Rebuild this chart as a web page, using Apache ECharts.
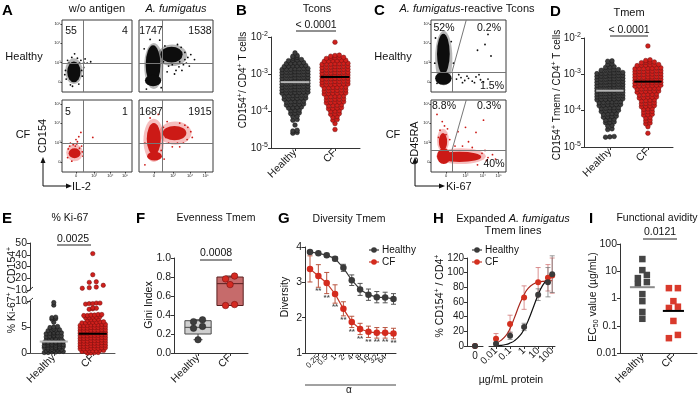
<!DOCTYPE html>
<html><head><meta charset="utf-8"><title>chart</title>
<script src="https://cdn.jsdelivr.net/npm/echarts@6.0.0/dist/echarts.min.js"></script>
<style>html,body{margin:0;padding:0;background:#fff;}#chart{width:700px;height:394px;}</style>
</head><body><div id="chart"></div>
<script>
const FONT='"Liberation Sans", Arial, Helvetica, sans-serif';
/* ================= DATA ================= */
const groupLabels=['Healthy','CF'];

// A - flow plots (CD154 vs IL-2); coordinates in % of each plot box
const flowTickLabels=['0','10³','10⁴','10⁵'];
const flowXTicks=[20,46,69,90];
const flowYTicks=[14,41,68,94];
const quadrantCountsA=[['55','4'],['1747','1538'],['5','1'],['1687','1915']];
const gatesA=[[30,40],[31,40],[30,40],[31,40]];
// halo/core = [cx, cy, width, height] ; events = [x, y]
const popA_HealthyNoAg={halo:[[17,29,25,36]],core:[[17,28,19,29]],events:[[8,44],[14,48],[22,47],[27,44],[31,41],[36,40],[29,22],[5,30],[31,34],[24,11],[12,10],[41,42],[18,53],[33,46],[6,18],[4,24],[28,30],[10,40],[25,40],[15,8]]};
const popA_HealthyAf={halo:[[20,36,26,64],[45,51,40,30]],core:[[19,38,20,54],[44,52,30,22],[19,16,22,16]],events:[[55,42],[60,38],[62,55],[58,30],[50,30],[48,25],[66,48],[70,52],[40,36],[35,64],[52,66],[28,72],[15,73],[68,36],[45,38],[54,35],[75,45],[38,28],[10,4],[30,6],[62,45],[57,62],[33,42],[36,58],[7,60],[64,40]]};
const popA_CFNoAg={halo:[[18,27,24,24]],core:[[18,26,17,14]],events:[[12,40],[20,45],[24,49],[16,38],[28,36],[9,32],[30,22],[22,42],[14,15],[44,48],[27,55],[19,36],[25,33],[11,36],[21,39],[8,20],[29,28]]};
const popA_CFAf={halo:[[20,44,28,60],[49,54,44,32]],core:[[20,46,19,44],[21,22,20,12],[48,54,32,20]],events:[[60,40],[65,45],[70,56],[62,65],[55,68],[40,40],[45,35],[38,70],[15,75],[30,30],[55,35],[72,48],[8,10],[34,18],[26,80],[58,60],[66,62],[52,40],[36,48],[8,40],[33,62]]};

// C - flow plots (CD45RA vs Ki-67)
const pctC=[['52%','0.2%','1.5%'],['8.8%','0.3%','40%']];
const gatesC=[[28,28,47],[28,30.5,47]]; // [vertical x, horizontal y, diagonal top x]
const popC_Healthy={halo:[[17,47,23,76]],core:[[16.5,53,17,56],[16.5,19,22,18]],events:[[34,18],[40,20],[45,16],[50,19],[55,15],[60,21],[66,17],[70,14],[48,22],[42,13],[58,13],[76,18],[37,24],[64,24],[72,66],[62,58],[80,50],[76,80],[30,40],[8,12],[5,40],[27,70],[6,75]]};
const popC_CF={halo:[[40,22,66,22],[16,44,16,32]],core:[[38,21,58,14],[17,22,18,22],[16,42,11,24]],events:[[12,58],[18,64],[15,70],[20,52],[10,48],[25,45],[32,36],[42,36],[55,34],[72,30],[76,20],[62,10],[82,24],[50,42],[36,56],[46,62],[60,55],[70,72],[86,18],[8,80],[68,26],[74,16],[22,60]]};

// B - CD154+/CD4+ T cells (Tcons), log10 values
const tconsHealthyLog10=[-2.43,-2.5,-2.52,-2.55,-2.57,-2.61,-2.62,-2.64,-2.63,-2.69,-2.7,-2.71,-2.72,-2.7,-2.77,-2.78,-2.79,-2.8,-2.78,-2.77,-2.85,-2.86,-2.87,-2.88,-2.86,-2.85,-2.87,-2.93,-2.94,-2.95,-2.96,-2.94,-2.93,-2.95,-3.01,-3.02,-3.03,-3.04,-3.02,-3.01,-3.03,-3.09,-3.1,-3.11,-3.12,-3.1,-3.09,-3.11,-3.17,-3.18,-3.19,-3.2,-3.18,-3.17,-3.19,-3.25,-3.26,-3.27,-3.28,-3.26,-3.25,-3.27,-3.33,-3.34,-3.35,-3.36,-3.34,-3.33,-3.35,-3.41,-3.42,-3.43,-3.44,-3.42,-3.41,-3.43,-3.49,-3.5,-3.51,-3.52,-3.5,-3.49,-3.51,-3.57,-3.58,-3.59,-3.6,-3.58,-3.57,-3.65,-3.66,-3.67,-3.68,-3.66,-3.65,-3.73,-3.74,-3.75,-3.76,-3.74,-3.81,-3.82,-3.83,-3.84,-3.82,-3.89,-3.9,-3.91,-3.92,-3.97,-3.98,-3.99,-4.05,-4.07,-4.06,-4.14,-4.15,-4.23,-4.25,-4.38,-4.52,-4.54,-4.58,-4.6];
const tconsCFLog10=[-2.14,-2.49,-2.5,-2.52,-2.55,-2.56,-2.57,-2.58,-2.56,-2.63,-2.64,-2.65,-2.66,-2.64,-2.63,-2.71,-2.72,-2.73,-2.74,-2.72,-2.71,-2.73,-2.79,-2.8,-2.81,-2.82,-2.8,-2.79,-2.81,-2.87,-2.88,-2.89,-2.9,-2.88,-2.87,-2.89,-2.95,-2.96,-2.97,-2.98,-2.96,-2.95,-2.97,-3.03,-3.04,-3.05,-3.06,-3.04,-3.03,-3.05,-3.11,-3.12,-3.13,-3.14,-3.12,-3.11,-3.13,-3.19,-3.2,-3.21,-3.22,-3.2,-3.19,-3.21,-3.27,-3.28,-3.29,-3.3,-3.28,-3.27,-3.29,-3.35,-3.36,-3.37,-3.38,-3.36,-3.35,-3.43,-3.44,-3.45,-3.46,-3.44,-3.43,-3.51,-3.52,-3.53,-3.54,-3.52,-3.51,-3.59,-3.6,-3.61,-3.62,-3.6,-3.67,-3.68,-3.69,-3.7,-3.68,-3.75,-3.76,-3.77,-3.78,-3.76,-3.83,-3.84,-3.85,-3.86,-3.91,-3.92,-3.93,-3.94,-3.99,-4.0,-4.01,-4.07,-4.08,-4.09,-4.15,-4.17,-4.23,-4.25,-4.34,-4.5];
const tconsMedianLog10=[-3.22,-3.08];

// D - CD154+ Tmem / CD4+ T cells, log10 values
const tmemHealthyLog10=[-2.63,-2.64,-2.71,-2.73,-2.79,-2.8,-2.81,-2.87,-2.88,-2.89,-2.88,-2.87,-2.95,-2.96,-2.97,-2.98,-2.96,-2.95,-2.97,-3.03,-3.04,-3.05,-3.06,-3.04,-3.03,-3.05,-3.11,-3.12,-3.13,-3.14,-3.12,-3.11,-3.13,-3.19,-3.2,-3.21,-3.22,-3.2,-3.19,-3.21,-3.27,-3.28,-3.29,-3.3,-3.28,-3.27,-3.29,-3.35,-3.36,-3.37,-3.38,-3.36,-3.35,-3.37,-3.43,-3.44,-3.45,-3.46,-3.44,-3.43,-3.45,-3.51,-3.52,-3.53,-3.54,-3.52,-3.51,-3.53,-3.59,-3.6,-3.61,-3.62,-3.6,-3.59,-3.61,-3.67,-3.68,-3.69,-3.7,-3.68,-3.67,-3.69,-3.75,-3.76,-3.77,-3.78,-3.76,-3.75,-3.83,-3.84,-3.85,-3.86,-3.84,-3.83,-3.91,-3.92,-3.93,-3.94,-3.92,-3.99,-4.0,-4.01,-4.02,-4.0,-4.07,-4.08,-4.09,-4.1,-4.15,-4.16,-4.17,-4.18,-4.23,-4.24,-4.26,-4.31,-4.33,-4.32,-4.4,-4.42,-4.5,-4.52,-4.72,-4.73,-4.71];
const tmemCFLog10=[-2.22,-2.6,-2.62,-2.66,-2.67,-2.68,-2.66,-2.74,-2.75,-2.76,-2.74,-2.73,-2.75,-2.82,-2.83,-2.84,-2.85,-2.83,-2.82,-2.84,-2.9,-2.91,-2.92,-2.93,-2.91,-2.9,-2.92,-2.98,-2.99,-3.0,-3.01,-2.99,-2.98,-3.0,-3.06,-3.07,-3.08,-3.09,-3.07,-3.06,-3.08,-3.14,-3.15,-3.16,-3.17,-3.15,-3.14,-3.16,-3.22,-3.23,-3.24,-3.25,-3.23,-3.22,-3.24,-3.3,-3.31,-3.32,-3.33,-3.31,-3.3,-3.32,-3.38,-3.39,-3.4,-3.41,-3.39,-3.38,-3.46,-3.47,-3.48,-3.49,-3.47,-3.46,-3.54,-3.55,-3.56,-3.57,-3.55,-3.62,-3.63,-3.64,-3.65,-3.63,-3.7,-3.71,-3.72,-3.73,-3.78,-3.79,-3.8,-3.81,-3.86,-3.87,-3.88,-3.89,-3.94,-3.95,-3.96,-4.02,-4.03,-4.04,-4.1,-4.11,-4.12,-4.18,-4.2,-4.26,-4.28,-4.34,-4.36,-4.44,-4.62];
const tmemMedianLog10=[-3.45,-3.2];

// E - % Ki-67+ / CD154+
const ki67Healthy=[9.7,9.2,6.9,6.6,6.5,6.8,5.9,5.0,4.9,5.1,4.4,4.5,4.3,4.6,4.4,3.9,3.8,4.0,3.7,3.9,3.8,3.3,3.2,3.4,3.1,3.3,3.2,2.7,2.6,2.8,2.5,2.7,2.6,2.8,2.1,2.0,2.2,1.9,2.1,2.0,2.2,1.9,1.6,1.5,1.7,1.4,1.6,1.5,1.7,1.4,1.1,1.0,1.2,0.9,1.1,1.0,1.2,0.9,0.6,0.5,0.7,0.4,0.6,0.5,0.7,0.2,0.1,0.3,0.2,0.1,0.3];
const ki67CF=[41,23,17,16.5,14,12.5,12,11.5,9.6,9.5,9.4,9.6,9.5,8.6,8.5,8.7,8.4,7.4,7.3,7.2,7.4,7.3,7.2,6.9,6.8,7.0,6.9,6.8,6.4,6.3,6.5,6.4,5.9,5.8,6.0,5.9,5.8,6.0,5.9,5.4,5.3,5.5,5.4,5.3,5.5,5.4,5.3,4.9,4.8,5.0,4.9,4.8,5.0,4.9,4.8,4.4,4.3,4.5,4.4,4.3,4.5,4.4,4.3,3.9,3.8,4.0,3.9,3.8,4.0,3.9,3.8,3.4,3.3,3.5,3.4,3.3,3.5,3.4,3.3,2.9,2.8,3.0,2.9,2.8,3.0,2.9,2.8,2.4,2.3,2.5,2.4,2.3,2.5,2.4,2.3,1.9,1.8,2.0,1.9,1.8,2.0,1.9,1.8,1.4,1.3,1.5,1.4,1.3,1.5,1.4,1.3,0.9,0.8,1.0,0.9,0.8,1.0,0.9,0.8,0.4,0.3,0.5,0.4,0.3,0.5,0.4,0.1,0.0,0.1,0.0];
const ki67Median=[2.2,3.7];

// F - Gini index (evenness)
const giniHealthy=[0.14,0.26,0.28,0.33,0.35];
const giniCF=[0.50,0.51,0.72,0.78,0.81];
const giniBoxHealthy=[0.14,0.20,0.27,0.34,0.35]; // min,q1,median,q3,max
const giniBoxCF=[0.50,0.50,0.73,0.80,0.81];

// G - Diversity vs alpha
const alphaLabels=['0','0.25','0.5','1','2','4','8','16','32','64','Inf'];
const divHealthy=[3.86,3.82,3.77,3.67,3.41,3.06,2.8,2.65,2.58,2.57,2.53];
const divHealthyErr=[0.03,0.04,0.05,0.06,0.1,0.15,0.17,0.16,0.16,0.15,0.15];
const divCF=[3.38,3.18,2.98,2.67,2.25,1.88,1.68,1.6,1.57,1.57,1.55];
const divCFErr=[0.37,0.32,0.3,0.26,0.2,0.16,0.16,0.16,0.15,0.15,0.15];
const divSig=['','**','**','**','**','**','**','**','**','**','**'];

// H - % CD154+ / CD4+ vs antigen dose
const doseTickLabels=['0.01','0.1','1','10','100'];
const doses=[0.01,0.1,1,10,50,100];
const respHealthy=[3,14,26,70,87,98];
const respHealthyErr=[2,5,5,8,20,25];
const respCF=[10,30,66,87,93,96];
const respCFErr=[7,12,16,20,18,24];
const respZeroDose=[0,0]; // Healthy, CF at 0 µg/mL
const fitDoses=[0.01,0.02,0.05,0.1,0.2,0.5,1,2,5,10,20,50,100];
const fitHealthy=[0.5,0.8,2,4,7,14,23,35,55,70,82,92,96];
const fitCF=[4,7,14,24,38,58,70,79,85,87,88,89,89];

// I - EC50 (µg/mL)
const ec50Healthy=[28,11,7.3,5.6,3.4,4.0,1.45,0.8,0.32,0.18];
const ec50CF=[2.4,2.4,0.8,0.45,0.5,0.15,0.035,0.046];
const ec50Median=[2.6,0.35];
const ec50TickLabels=['0.01','0.1','1','10','100'];

/* ================= BUILD ================= */
const grids=[],xAxes=[],yAxes=[],series=[],graphics=[];
const RICH={s:{fontSize:7,padding:[0,0,6,0],fontFamily:FONT,color:'#1a1a1a'}};
const ELLIPSE='path://M0 50A50 50 0 1 1 100 50A50 50 0 1 1 0 50Z';
const DOT_H={color:'#3d3d3d',borderColor:'#111',borderWidth:0.5,opacity:1};
const DOT_C={color:'#d0201c',borderColor:'#6e0e0e',borderWidth:0.5,opacity:1};

function grid(l,t,w,h,o){grids.push(Object.assign({left:l,top:t,width:w,height:h,outerBoundsMode:'none'},o||{}));return grids.length-1;}
function mkAxis(list,g,o){
  const lc=o.lineColor||'#333';
  const a={gridIndex:g,type:'value',min:o.min,max:o.max,show:o.show!==false,
    axisLine:{show:true,onZero:false,lineStyle:{color:lc,width:1}},
    axisTick:{show:!!o.ticks,customValues:o.ticks,length:o.tickLen||3,lineStyle:{color:lc,width:1}},
    axisLabel:{show:!!o.ticks,customValues:o.ticks,formatter:o.fmt,rotate:o.rotate||0,fontSize:o.fs||10,margin:o.margin||3,color:'#1a1a1a',fontFamily:FONT,rich:o.rich},
    splitLine:{show:false}};
  if(o.extra)Object.assign(a,o.extra);
  list.push(a);return list.length-1;
}
function T(x,y,text,o){o=o||{};
  graphics.push({type:'text',x:x,y:y,rotation:o.rot?Math.PI/2:0,silent:true,z:100,
    style:{text:text,x:0,y:0,fill:o.color||'#111',fontSize:o.fs||11,fontFamily:FONT,fontWeight:o.bold?'bold':'normal',fontStyle:o.italic?'italic':'normal',
      align:o.align||'center',textAlign:o.align||'center',verticalAlign:o.va||'middle',textVerticalAlign:o.va||'middle',rich:o.rich}});}
function L(x1,y1,x2,y2,c,w){graphics.push({type:'line',silent:true,z:100,shape:{x1:x1,y1:y1,x2:x2,y2:y2},style:{stroke:c||'#222',lineWidth:w||1}});}
function P(points,c){graphics.push({type:'polygon',silent:true,z:100,shape:{points:points},style:{fill:c||'#222'}});}
function C(cx,cy,r,c){graphics.push({type:'circle',silent:true,z:100,shape:{cx:cx,cy:cy,r:r},style:{fill:c}});}
const supRich={s:{fontSize:7,padding:[0,0,6,0],fontFamily:FONT,fill:'#111',color:'#111'},i:{fontStyle:'italic',fontSize:11,fontFamily:FONT,fill:'#111'},n:{fontSize:11,fontFamily:FONT,fill:'#111'},b:{fontSize:7,padding:[6,0,0,0],fontFamily:FONT,fill:'#111'}};

// row beeswarm: points with (nearly) equal pixel height share a centred row
function rowSwarm(vals,center,toPx,pxPerX,spacing,maxHalf,tol){
  const pts=vals.map(v=>({v:v,py:toPx(v)})).sort((a,b)=>a.py-b.py);
  const out=[];let i=0;
  while(i<pts.length){let j=i;while(j+1<pts.length&&pts[j+1].py-pts[i].py<tol)j++;
    const n=j-i+1;const s=n>1?Math.min(spacing,2*maxHalf/(n-1)):0;
    for(let k=0;k<n;k++){out.push([center+((k-(n-1)/2)*s)/pxPerX,pts[i+k].v]);}
    i=j+1;}
  return out;
}
function medianLine(xi,yi,c,m,half,color){series.push({type:'line',xAxisIndex:xi,yAxisIndex:yi,data:[[c-half,m],[c+half,m]],showSymbol:false,symbol:'none',silent:true,z:6,lineStyle:{color:color,width:2}});}
function errSeries(xi,yi,pts,color,cap,z){series.push({type:'custom',xAxisIndex:xi,yAxisIndex:yi,silent:true,z:z||2,data:pts,
  renderItem:function(params,api){const x=api.value(0),y=api.value(1),e=api.value(2);
    const hi=api.coord([x,y+e]),lo=api.coord([x,y-e]);
    const st={stroke:color,lineWidth:1};
    return {type:'group',children:[
      {type:'line',shape:{x1:hi[0],y1:hi[1],x2:lo[0],y2:lo[1]},style:st},
      {type:'line',shape:{x1:hi[0]-cap,y1:hi[1],x2:hi[0]+cap,y2:hi[1]},style:st},
      {type:'line',shape:{x1:lo[0]-cap,y1:lo[1],x2:lo[0]+cap,y2:lo[1]},style:st}]};}});}

// ---- flow boxes ----
function flowBox(l,t,w,h,pop,col,halo,segs,showY,showX){
  const g=grid(l,t,w,h,{show:true,borderColor:'#3a3a3a',borderWidth:1});
  const tf=ticks=>v=>flowTickLabels[ticks.indexOf(v)]||'';
  const xi=mkAxis(xAxes,g,{min:0,max:100,ticks:showX?flowXTicks:undefined,fmt:tf(flowXTicks),fs:4,margin:1.5,tickLen:1.5,extra:{axisLine:{show:false}}});
  const yi=mkAxis(yAxes,g,{min:0,max:100,ticks:showY?flowYTicks:undefined,fmt:tf(flowYTicks),fs:4,margin:1.5,tickLen:1.5,extra:{axisLine:{show:false}}});
  const sz=v=>[v[2]/100*w,v[3]/100*h];
  series.push({type:'scatter',xAxisIndex:xi,yAxisIndex:yi,data:pop.halo,symbol:ELLIPSE,symbolSize:sz,itemStyle:{color:halo,opacity:1},silent:true,z:2});
  series.push({type:'scatter',xAxisIndex:xi,yAxisIndex:yi,data:pop.core,symbol:ELLIPSE,symbolSize:sz,itemStyle:{color:col,opacity:1},silent:true,z:3});
  series.push({type:'scatter',xAxisIndex:xi,yAxisIndex:yi,data:pop.events,symbolSize:1.8,itemStyle:{color:col,opacity:1},silent:true,z:4,
    markLine:{silent:true,symbol:['none','none'],animation:false,label:{show:false},lineStyle:{color:'#777',width:1,type:'solid'},emphasis:{disabled:true},
      data:segs.map(s=>[{coord:s[0]},{coord:s[1]}])}});
}
const segA=g=>[[[g[0],0],[g[0],100]],[[0,g[1]],[100,g[1]]]];
const segC=g=>[[[g[0],0],[g[0],g[1]]],[[g[0],g[1]],[g[2],100]],[[0,g[1]],[100,g[1]]]];
const BLK='#0d0d0d',BLKH='rgba(0,0,0,0.28)',RED='#cc1a16',REDH='rgba(225,40,40,0.3)';
flowBox(62,20,70,72,popA_HealthyNoAg,BLK,BLKH,segA(gatesA[0]),true,false);
flowBox(139,20,74,72,popA_HealthyAf,BLK,BLKH,segA(gatesA[1]),false,false);
flowBox(62,100,70,72,popA_CFNoAg,RED,REDH,segA(gatesA[2]),true,true);
flowBox(139,100,74,72,popA_CFAf,RED,REDH,segA(gatesA[3]),false,true);
flowBox(431,20,75,72,popC_Healthy,BLK,BLKH,segC(gatesC[0]),true,false);
flowBox(431,100,75,72,popC_CF,RED,REDH,segC(gatesC[1]),true,true);

// ---- B ----
(function(){
  const g=grid(271,37,89,111);const xmin=0.4,xmax=2.625;
  const xi=mkAxis(xAxes,g,{min:xmin,max:xmax,ticks:[1,2],fmt:v=>groupLabels[Math.round(v)-1],rotate:45,fs:10.5});
  const yi=mkAxis(yAxes,g,{min:-5,max:-2,ticks:[-5,-4,-3,-2],fmt:e=>'10{s|'+e+'}',rich:RICH,fs:10});
  const toPx=e=>(e+5)/3*111,ppx=89/(xmax-xmin);
  series.push({type:'scatter',xAxisIndex:xi,yAxisIndex:yi,data:rowSwarm(tconsHealthyLog10,1,toPx,ppx,4.3,14,1.6),symbolSize:4.6,itemStyle:DOT_H,z:3});
  series.push({type:'scatter',xAxisIndex:xi,yAxisIndex:yi,data:rowSwarm(tconsCFLog10,2,toPx,ppx,4.3,14,1.6),symbolSize:4.6,itemStyle:DOT_C,z:3});
  medianLine(xi,yi,1,tconsMedianLog10[0],0.36,'#b5b5b5');
  medianLine(xi,yi,2,tconsMedianLog10[1],0.36,'#000');
})();
// ---- D ----
(function(){
  const g=grid(584,38,89,109);const xmin=0.32,xmax=2.66;
  const xi=mkAxis(xAxes,g,{min:xmin,max:xmax,ticks:[1,2],fmt:v=>groupLabels[Math.round(v)-1],rotate:45,fs:10.5});
  const yi=mkAxis(yAxes,g,{min:-5,max:-2,ticks:[-5,-4,-3,-2],fmt:e=>'10{s|'+e+'}',rich:RICH,fs:10});
  const toPx=e=>(e+5)/3*109,ppx=89/(xmax-xmin);
  series.push({type:'scatter',xAxisIndex:xi,yAxisIndex:yi,data:rowSwarm(tmemHealthyLog10,1,toPx,ppx,4.3,13.5,1.6),symbolSize:4.6,itemStyle:DOT_H,z:3});
  series.push({type:'scatter',xAxisIndex:xi,yAxisIndex:yi,data:rowSwarm(tmemCFLog10,2,toPx,ppx,4.3,13.5,1.6),symbolSize:4.6,itemStyle:DOT_C,z:3});
  medianLine(xi,yi,1,tmemMedianLog10[0],0.36,'#b5b5b5');
  medianLine(xi,yi,2,tmemMedianLog10[1],0.36,'#000');
})();
// ---- E ----
(function(){
  const xmin=0.39,xmax=2.57;
  const gu=grid(30,243,85,47),gl=grid(30,301,85,52);
  const xu=mkAxis(xAxes,gu,{min:xmin,max:xmax,show:false});
  const yu=mkAxis(yAxes,gu,{min:10,max:50,ticks:[10,20,30,40,50],fs:10.5});
  const xl=mkAxis(xAxes,gl,{min:xmin,max:xmax,ticks:[1,2],fmt:v=>groupLabels[Math.round(v)-1],rotate:45,fs:10.5,lineColor:'#555'});
  const yl=mkAxis(yAxes,gl,{min:0,max:10,ticks:[0,5,10],fs:10.5});
  const ppx=85/(xmax-xmin);
  const lowPx=v=>v*5.2,upPx=v=>(v-10)*47/40;
  const hLow=ki67Healthy.filter(v=>v<=10),cLow=ki67CF.filter(v=>v<=10),cUp=ki67CF.filter(v=>v>10);
  series.push({type:'scatter',xAxisIndex:xl,yAxisIndex:yl,data:rowSwarm(hLow,1,lowPx,ppx,3.8,13,1.3),symbolSize:4.4,itemStyle:DOT_H,z:3});
  series.push({type:'scatter',xAxisIndex:xl,yAxisIndex:yl,data:rowSwarm(cLow,2,lowPx,ppx,3.6,14,1.3),symbolSize:4.4,itemStyle:DOT_C,z:3});
  series.push({type:'scatter',xAxisIndex:xu,yAxisIndex:yu,data:rowSwarm(cUp,2,upPx,ppx,7,14,3),symbolSize:4.4,itemStyle:DOT_C,z:3});
  medianLine(xl,yl,1,ki67Median[0],0.36,'#b5b5b5');
  medianLine(xl,yl,2,ki67Median[1],0.36,'#000');
})();
// ---- F ----
(function(){
  const xmin=0.25,xmax=2.56;const g=grid(174,258,74,95);
  const xi=mkAxis(xAxes,g,{min:xmin,max:xmax,ticks:[1,2],fmt:v=>groupLabels[Math.round(v)-1],rotate:45,fs:10.5});
  const yi=mkAxis(yAxes,g,{min:0,max:1,ticks:[0,0.2,0.4,0.6,0.8,1],fmt:v=>v.toFixed(1),fs:10.5});
  const ppx=74/(xmax-xmin),toPx=v=>v*95;
  const boxes=[[1].concat(giniBoxHealthy),[2].concat(giniBoxCF)];
  const fills=['#cfcfcf','#c66b6b'],strokes=['#4a4a4a','#5a2020'];
  series.push({type:'custom',xAxisIndex:xi,yAxisIndex:yi,silent:true,z:2,data:boxes,
    renderItem:function(params,api){const i=params.dataIndex;const x=api.value(0);
      const mn=api.coord([x,api.value(1)]),q1=api.coord([x,api.value(2)]),md=api.coord([x,api.value(3)]),q3=api.coord([x,api.value(4)]),mx=api.coord([x,api.value(5)]);
      const hw=api.size([0.41,0])[0],cw=api.size([0.14,0])[0];const st={stroke:strokes[i],lineWidth:1};
      return {type:'group',children:[
        {type:'rect',shape:{x:q3[0]-hw,y:q3[1],width:2*hw,height:q1[1]-q3[1]},style:{fill:fills[i],stroke:strokes[i],lineWidth:1}},
        {type:'line',shape:{x1:md[0]-hw,y1:md[1],x2:md[0]+hw,y2:md[1]},style:st},
        {type:'line',shape:{x1:q3[0],y1:q3[1],x2:mx[0],y2:mx[1]},style:st},
        {type:'line',shape:{x1:q1[0],y1:q1[1],x2:mn[0],y2:mn[1]},style:st},
        {type:'line',shape:{x1:mn[0]-cw,y1:mn[1],x2:mn[0]+cw,y2:mn[1]},style:st},
        {type:'line',shape:{x1:mx[0]-cw,y1:mx[1],x2:mx[0]+cw,y2:mx[1]},style:st}]};}});
  series.push({type:'scatter',xAxisIndex:xi,yAxisIndex:yi,data:rowSwarm(giniHealthy,1,toPx,ppx,9,10,5),symbolSize:6.5,itemStyle:{color:'#3d3d3d',borderColor:'#222',borderWidth:0.5,opacity:1},z:4});
  series.push({type:'scatter',xAxisIndex:xi,yAxisIndex:yi,data:rowSwarm(giniCF,2,toPx,ppx,9,10,5),symbolSize:6.5,itemStyle:{color:'#d42a22',borderColor:'#7a1010',borderWidth:0.6,opacity:1},z:4});
})();
// ---- G ----
(function(){
  const g=grid(305,247,91,106);
  const idx=alphaLabels.map((a,i)=>i);
  const xi=mkAxis(xAxes,g,{min:-0.6,max:10.3,ticks:idx,fmt:v=>alphaLabels[Math.round(v)],rotate:45,fs:8,margin:3});
  const yi=mkAxis(yAxes,g,{min:1,max:4,ticks:[1,2,3,4],fs:10.5});
  errSeries(xi,yi,idx.map(i=>[i,divHealthy[i],divHealthyErr[i]]),'#555',2.5,2);
  errSeries(xi,yi,idx.map(i=>[i,divCF[i],divCFErr[i]]),'#b8543f',2.5,2);
  series.push({type:'line',xAxisIndex:xi,yAxisIndex:yi,data:idx.map(i=>[i,divHealthy[i]]),symbol:'circle',symbolSize:6.5,lineStyle:{color:'#3a3a3a',width:1.2},itemStyle:{color:'#3a3a3a'},z:4});
  series.push({type:'line',xAxisIndex:xi,yAxisIndex:yi,data:idx.map(i=>[i,divCF[i]]),symbol:'circle',symbolSize:6.5,lineStyle:{color:'#c43a2a',width:1.2},itemStyle:{color:'#d42b1e'},z:4});
  series.push({type:'scatter',xAxisIndex:xi,yAxisIndex:yi,data:idx.map(i=>[i,divCF[i]-divCFErr[i]]),symbolSize:0,silent:true,z:5,
    label:{show:true,position:'bottom',distance:0,formatter:p=>divSig[p.dataIndex],fontSize:8,fontWeight:'bold',color:'#222',fontFamily:FONT}});
})();
// ---- H ----
(function(){
  const g0=grid(467,258,16,88),g1=grid(489,258,66,88);
  const x0=mkAxis(xAxes,g0,{min:-1,max:1,ticks:[0],fmt:()=>'0',fs:10,margin:5});
  const y0=mkAxis(yAxes,g0,{min:0,max:120,ticks:[0,20,40,60,80,100,120],fs:10});
  const x1=mkAxis(xAxes,g1,{min:-2.5,max:2.2,ticks:[-2,-1,0,1,2],fmt:e=>doseTickLabels[Math.round(e)+2],rotate:45,fs:10,margin:3});
  const y1=mkAxis(yAxes,g1,{min:0,max:120,show:false});
  const lg=d=>Math.log10(d);
  errSeries(x1,y1,doses.map((d,i)=>[lg(d),respCF[i],respCFErr[i]]),'rgba(205,110,110,0.75)',2.5,2);
  errSeries(x1,y1,doses.map((d,i)=>[lg(d),respHealthy[i],respHealthyErr[i]]),'rgba(110,110,110,0.7)',2.5,2);
  series.push({type:'line',xAxisIndex:x1,yAxisIndex:y1,data:fitDoses.map((d,i)=>[lg(d),fitCF[i]]),smooth:true,showSymbol:false,symbol:'none',lineStyle:{color:'#a8281e',width:1.2},z:3,silent:true});
  series.push({type:'line',xAxisIndex:x1,yAxisIndex:y1,data:fitDoses.map((d,i)=>[lg(d),fitHealthy[i]]),smooth:true,showSymbol:false,symbol:'none',lineStyle:{color:'#111',width:1.2},z:3,silent:true});
  series.push({type:'scatter',xAxisIndex:x1,yAxisIndex:y1,data:doses.map((d,i)=>[lg(d),respCF[i]]),symbolSize:6,itemStyle:{color:'#d4301f',opacity:1},z:4});
  series.push({type:'scatter',xAxisIndex:x1,yAxisIndex:y1,data:doses.map((d,i)=>[lg(d),respHealthy[i]]),symbolSize:6,itemStyle:{color:'#3a3a3a',opacity:1},z:5});
  series.push({type:'scatter',xAxisIndex:x0,yAxisIndex:y0,data:[[0,respZeroDose[1]]],symbolSize:6,itemStyle:{color:'#d4301f',opacity:1},z:4});
  series.push({type:'scatter',xAxisIndex:x0,yAxisIndex:y0,data:[[0,respZeroDose[0]]],symbolSize:6,itemStyle:{color:'#3a3a3a',opacity:1},z:5});
})();
// ---- I ----
(function(){
  const xmin=0.28,xmax=2.76;const g=grid(620,244,77,109);
  const xi=mkAxis(xAxes,g,{min:xmin,max:xmax,ticks:[1,2],fmt:v=>groupLabels[Math.round(v)-1],rotate:45,fs:10.5});
  const yi=mkAxis(yAxes,g,{min:-2,max:2,ticks:[-2,-1,0,1,2],fmt:e=>ec50TickLabels[Math.round(e)+2],fs:10.5});
  const ppx=77/(xmax-xmin),toPx=v=>(v+2)/4*109;
  const hl=ec50Healthy.map(Math.log10),cl=ec50CF.map(Math.log10);
  series.push({type:'scatter',xAxisIndex:xi,yAxisIndex:yi,data:rowSwarm(hl,1,toPx,ppx,9,12,5),symbol:'rect',symbolSize:6.5,itemStyle:{color:'#454545',opacity:1},z:3});
  series.push({type:'scatter',xAxisIndex:xi,yAxisIndex:yi,data:rowSwarm(cl,2,toPx,ppx,9,12,5),symbol:'rect',symbolSize:6.5,itemStyle:{color:'#d93a2c',opacity:1},z:3});
  medianLine(xi,yi,1,Math.log10(ec50Median[0]),0.4,'#8a8a8a');
  medianLine(xi,yi,2,Math.log10(ec50Median[1]),0.34,'#000');
})();

/* ---------- text & annotations ---------- */
[['A',2,3],['B',236,3],['C',374,3],['D',550,4],['E',2,211],['F',136,211],['G',278,211],['H',433,211],['I',589,211]].forEach(p=>T(p[1],p[2],p[0],{bold:true,fs:15,align:'left',va:'top',color:'#000'}));
// A
T(97,9,'w/o antigen',{fs:11});
T(176,9,'A. fumigatus',{fs:11,italic:true});
T(24,57,'Healthy',{fs:11});T(23,135,'CF',{fs:11});
T(43,136,'CD154',{fs:11,rot:true});
T(72,187,'IL-2',{fs:11,align:'left'});
L(43,162,43,186,'#111',1);L(43,186,67,186,'#111',1);P([[43,157],[40.5,163],[45.5,163]],'#111');P([[72,186],[66,183.5],[66,188.5]],'#111');
const cntPos=[[[71,31],[125,31]],[[151,31],[200,31]],[[68,112],[125,112]],[[151,112],[200,112]]];
quadrantCountsA.forEach((pair,i)=>pair.forEach((t,j)=>T(cntPos[i][j][0],cntPos[i][j][1],t,{fs:10.5})));
// B
T(317,9,'Tcons',{fs:11});T(316,25,'< 0.0001',{fs:10.5});L(296,31,336,31,'#222',1);
T(243,80,'CD154{s|+}/ CD4{s|+} T cells',{fs:10,rot:true,rich:supRich});
// C
T(467,9,'{i|A. fumigatus}{n|-reactive Tcons}',{fs:11,rich:supRich});
T(393,57,'Healthy',{fs:11});T(393,135,'CF',{fs:11});
T(415,143,'CD45RA',{fs:11,rot:true});
T(446,187,'Ki-67',{fs:11,align:'left'});
L(415,162,415,186,'#111',1);L(415,186,440,186,'#111',1);P([[415,157],[412.5,163],[417.5,163]],'#111');P([[445,186],[439,183.5],[439,188.5]],'#111');
const pctPos=[[[444,28],[489,28],[492,86]],[[444,106],[489,106],[494,164]]];
pctC.forEach((row,i)=>row.forEach((t,j)=>T(pctPos[i][j][0],pctPos[i][j][1],t,{fs:10.5})));
// D
T(629,13,'Tmem',{fs:11});T(629,30,'< 0.0001',{fs:10.5});L(610,36,648,36,'#222',1);
T(557,95,'CD154{s|+} Tmem / CD4{s|+} T cells',{fs:10,rot:true,rich:supRich});
// E
T(70,218,'% Ki-67',{fs:10.5});T(73,239,'0.0025',{fs:10.5});L(57,245,91,245,'#222',1);
T(12,290,'% Ki-67{s|+} / CD154{s|+}',{fs:10.5,rot:true,rich:supRich});
L(26,293,33,287,'#333',1);L(26,304,33,298,'#333',1);
// F
T(216,218,'Evenness Tmem',{fs:10.5});T(216,253,'0.0008',{fs:10.5});L(200,260,232,260,'#222',1);
T(149,305,'Gini Index',{fs:10.5,rot:true});
// G
T(349,219,'Diversity Tmem',{fs:10.5});
T(285,297,'Diversity',{fs:10.5,rot:true});
L(305,385,396,385,'#444',1);T(349,390,'α',{fs:10});
L(369,250,379,250,'#3a3a3a',1.2);C(374,250,2.8,'#3a3a3a');T(382,250,'Healthy',{fs:10,align:'left'});
L(369,262,379,262,'#c43a2a',1.2);C(374,262,2.8,'#d42b1e');T(382,262,'CF',{fs:10,align:'left'});
// H
T(513,219,'{n|Expanded }{i|A. fumigatus}',{fs:11,rich:supRich});
T(513,231,'Tmem lines',{fs:11});
T(440,296,'% CD154{s|+} / CD4{s|+}',{fs:10.5,rot:true,rich:supRich});
T(511,380,'µg/mL protein',{fs:10.5});
L(472,250,482,250,'#3a3a3a',1.2);C(477,250,2.8,'#3a3a3a');T(485,250,'Healthy',{fs:10,align:'left'});
L(472,262,482,262,'#c43a2a',1.2);C(477,262,2.8,'#d4301f');T(485,262,'CF',{fs:10,align:'left'});
// I
T(657,218,'Functional avidity',{fs:10.5});T(660,232,'0.0121',{fs:10.5});L(643,239,677,239,'#222',1);
T(593,297,'EC{b|50} value (µg/mL)',{fs:10.5,rot:true,rich:supRich});

const chart=echarts.init(document.getElementById('chart'),null,{renderer:'canvas',width:700,height:394});
chart.setOption({animation:false,backgroundColor:'#fff',textStyle:{fontFamily:FONT},grid:grids,xAxis:xAxes,yAxis:yAxes,series:series,graphic:{elements:graphics}});
</script></body></html>
